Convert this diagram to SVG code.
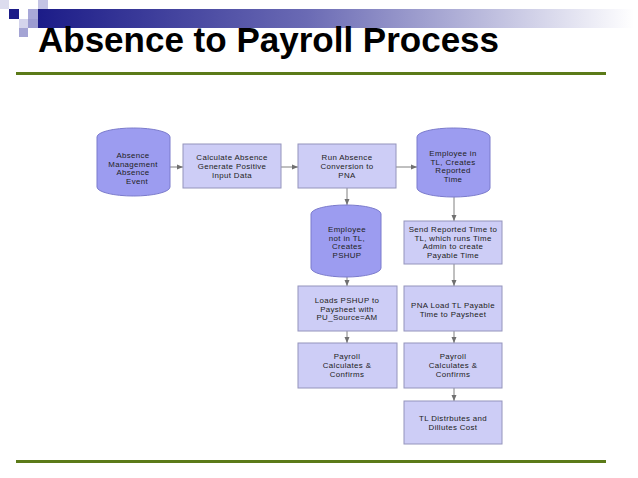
<svg xmlns="http://www.w3.org/2000/svg" width="638" height="478" viewBox="0 0 638 478">
<defs>
<linearGradient id="bar" x1="38" y1="0" x2="634" y2="0" gradientUnits="userSpaceOnUse">
<stop offset="0" stop-color="#1c1c88"/>
<stop offset="0.45" stop-color="#6a6ab4"/>
<stop offset="1" stop-color="#ffffff"/>
</linearGradient>
<marker id="arr" viewBox="0 0 6 6" refX="6" refY="3" markerWidth="6" markerHeight="6" orient="auto" markerUnits="userSpaceOnUse">
<path d="M0,0.5 L6,3 L0,5.5 Z" fill="#707070"/>
</marker>
<style>
.box{fill:#cdcdf6;stroke:#9494bc;stroke-width:1}
.cyl{fill:#9c9cf0;stroke:#7a7acc;stroke-width:1}
.t{font-family:"Liberation Sans",Arial,sans-serif;font-size:7.9px;letter-spacing:0.35px;fill:#222;text-anchor:middle}
.c{stroke:#808080;stroke-width:1;fill:none;marker-end:url(#arr)}
.rule{fill:#5b7a18}
</style>
</defs>
<rect width="638" height="478" fill="#ffffff"/>
<g id="header">
<rect x="0" y="0" width="9" height="9" fill="#dcdcee"/>
<rect x="9" y="9" width="10" height="10" fill="#1c1c88"/>
<rect x="28" y="9" width="10" height="10" fill="#a8a8d8"/>
<rect x="38" y="0" width="10" height="9" fill="#c4c4e4"/>
<rect x="19" y="19" width="9" height="9" fill="#d4d4ec"/>
<rect x="28" y="19" width="10" height="9" fill="#9c9cd0"/>
<rect x="19" y="28" width="9" height="9" fill="#a4a4d4"/>
<rect x="38" y="9" width="596" height="19" fill="url(#bar)"/>
<text x="38" y="52" font-family="'Liberation Sans',Arial,sans-serif" font-size="35" font-weight="bold" fill="#000">Absence to Payroll Process</text>
<rect class="rule" x="16" y="72" width="590" height="3"/>
<rect class="rule" x="16" y="460" width="590" height="3"/>
</g>
<g id="connectors">
<line class="c" x1="170" y1="167" x2="183" y2="167"/>
<line class="c" x1="281" y1="167" x2="298" y2="167"/>
<line class="c" x1="396" y1="167" x2="417" y2="167"/>
<line class="c" x1="347" y1="188" x2="347" y2="205"/>
<line class="c" x1="454" y1="197" x2="454" y2="221"/>
<line class="c" x1="347" y1="277" x2="347" y2="286"/>
<line class="c" x1="454" y1="264" x2="454" y2="286"/>
<line class="c" x1="347" y1="331" x2="347" y2="343"/>
<line class="c" x1="454" y1="331" x2="454" y2="343"/>
<line class="c" x1="454" y1="388" x2="454" y2="401"/>
</g>
<g id="absence-event">
<path class="cyl" d="M97,137 A36.5,9 0 0 1 170,137 V187 A36.5,9 0 0 1 97,187 Z"/>
<text class="t" x="133" y="158">Absence</text>
<text class="t" x="133" y="166.5">Management</text>
<text class="t" x="133" y="175">Absence</text>
<text class="t" x="137" y="183.5">Event</text>
</g>
<g id="calculate-absence">
<rect class="box" x="183" y="144" width="98" height="44"/>
<text class="t" x="232" y="160">Calculate Absence</text>
<text class="t" x="232" y="169">Generate Positive</text>
<text class="t" x="232" y="177.5">Input Data</text>
</g>
<g id="run-absence">
<rect class="box" x="298" y="144" width="98" height="44"/>
<text class="t" x="347" y="160">Run Absence</text>
<text class="t" x="347" y="169">Conversion to</text>
<text class="t" x="347" y="177.5">PNA</text>
</g>
<g id="employee-in-tl">
<path class="cyl" d="M417,137 A36.5,9 0 0 1 490,137 V188 A36.5,9 0 0 1 417,188 Z"/>
<text class="t" x="453" y="156">Employee in</text>
<text class="t" x="453" y="164.5">TL, Creates</text>
<text class="t" x="453" y="173">Reported</text>
<text class="t" x="453" y="181.5">Time</text>
</g>
<g id="employee-not-in-tl">
<path class="cyl" d="M311,214 A35,9 0 0 1 381,214 V268 A35,9 0 0 1 311,268 Z"/>
<text class="t" x="347" y="232">Employee</text>
<text class="t" x="347" y="240.5">not in TL,</text>
<text class="t" x="347" y="249">Creates</text>
<text class="t" x="347" y="257.5">PSHUP</text>
</g>
<g id="send-reported-time">
<rect class="box" x="404" y="221" width="98" height="43"/>
<text class="t" x="453" y="232">Send Reported Time to</text>
<text class="t" x="453" y="240.5">TL, which runs Time</text>
<text class="t" x="453" y="249">Admin to create</text>
<text class="t" x="453" y="257.5">Payable Time</text>
</g>
<g id="loads-pshup">
<rect class="box" x="298" y="286" width="99" height="45"/>
<text class="t" x="347" y="303">Loads PSHUP to</text>
<text class="t" x="347" y="311.5">Paysheet with</text>
<text class="t" x="347" y="320">PU_Source=AM</text>
</g>
<g id="pna-load">
<rect class="box" x="404" y="286" width="98" height="45"/>
<text class="t" x="453" y="308">PNA Load TL Payable</text>
<text class="t" x="453" y="316.5">Time to Paysheet</text>
</g>
<g id="payroll-1">
<rect class="box" x="298" y="343" width="99" height="45"/>
<text class="t" x="347" y="359">Payroll</text>
<text class="t" x="347" y="368">Calculates &amp;</text>
<text class="t" x="347" y="376.5">Confirms</text>
</g>
<g id="payroll-2">
<rect class="box" x="404" y="343" width="98" height="45"/>
<text class="t" x="453" y="359">Payroll</text>
<text class="t" x="453" y="368">Calculates &amp;</text>
<text class="t" x="453" y="376.5">Confirms</text>
</g>
<g id="tl-distributes">
<rect class="box" x="404" y="401" width="98" height="43"/>
<text class="t" x="453" y="421">TL Distrbutes and</text>
<text class="t" x="453" y="429.5">Dillutes Cost</text>
</g>
</svg>
